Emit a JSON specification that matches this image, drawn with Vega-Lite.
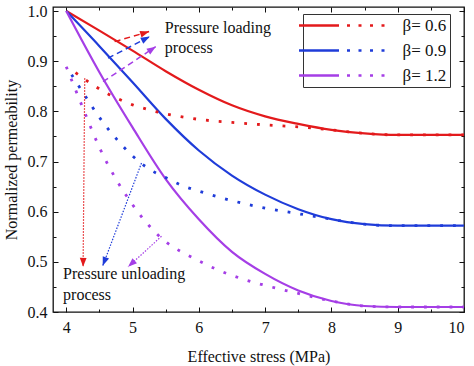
{
  "$schema": "https://vega.github.io/schema/vega-lite/v6.json",
  "width": 411,
  "height": 305,
  "autosize": {"type": "none"},
  "padding": {"left": 53, "top": 7, "right": 10, "bottom": 54},
  "background": "white",
  "config": {
    "view": {"stroke": "#111", "strokeWidth": 1.3},
    "font": "Liberation Serif",
    "axis": {"grid": false, "domain": false, "tickColor": "#111", "labelColor": "#111", "titleColor": "#111", "labelFont": "Liberation Serif", "titleFont": "Liberation Serif", "labelFontSize": 16, "titleFontSize": 16, "titleFontWeight": "normal", "tickWidth": 1}
  },
  "datasets": {
    "curves": [
      {"process": "loading", "beta": "β= 0.6", "x": 4, "k": 1.0},
      {"process": "loading", "beta": "β= 0.6", "x": 4.5, "k": 0.961},
      {"process": "loading", "beta": "β= 0.6", "x": 5, "k": 0.921},
      {"process": "loading", "beta": "β= 0.6", "x": 5.5, "k": 0.88},
      {"process": "loading", "beta": "β= 0.6", "x": 6, "k": 0.843},
      {"process": "loading", "beta": "β= 0.6", "x": 6.5, "k": 0.812},
      {"process": "loading", "beta": "β= 0.6", "x": 7, "k": 0.79},
      {"process": "loading", "beta": "β= 0.6", "x": 7.5, "k": 0.775},
      {"process": "loading", "beta": "β= 0.6", "x": 8, "k": 0.763},
      {"process": "loading", "beta": "β= 0.6", "x": 8.5, "k": 0.756},
      {"process": "loading", "beta": "β= 0.6", "x": 9, "k": 0.753},
      {"process": "loading", "beta": "β= 0.6", "x": 9.5, "k": 0.753},
      {"process": "loading", "beta": "β= 0.6", "x": 10, "k": 0.753},
      {"process": "loading", "beta": "β= 0.9", "x": 4, "k": 1.0},
      {"process": "loading", "beta": "β= 0.9", "x": 4.5, "k": 0.93},
      {"process": "loading", "beta": "β= 0.9", "x": 5, "k": 0.858},
      {"process": "loading", "beta": "β= 0.9", "x": 5.5, "k": 0.785},
      {"process": "loading", "beta": "β= 0.9", "x": 6, "k": 0.722},
      {"process": "loading", "beta": "β= 0.9", "x": 6.5, "k": 0.672},
      {"process": "loading", "beta": "β= 0.9", "x": 7, "k": 0.634},
      {"process": "loading", "beta": "β= 0.9", "x": 7.5, "k": 0.605},
      {"process": "loading", "beta": "β= 0.9", "x": 8, "k": 0.585},
      {"process": "loading", "beta": "β= 0.9", "x": 8.5, "k": 0.575},
      {"process": "loading", "beta": "β= 0.9", "x": 9, "k": 0.572},
      {"process": "loading", "beta": "β= 0.9", "x": 9.5, "k": 0.572},
      {"process": "loading", "beta": "β= 0.9", "x": 10, "k": 0.572},
      {"process": "loading", "beta": "β= 1.2", "x": 4, "k": 1.0},
      {"process": "loading", "beta": "β= 1.2", "x": 4.5, "k": 0.878},
      {"process": "loading", "beta": "β= 1.2", "x": 5, "k": 0.768},
      {"process": "loading", "beta": "β= 1.2", "x": 5.5, "k": 0.665},
      {"process": "loading", "beta": "β= 1.2", "x": 6, "k": 0.585},
      {"process": "loading", "beta": "β= 1.2", "x": 6.5, "k": 0.52},
      {"process": "loading", "beta": "β= 1.2", "x": 7, "k": 0.476},
      {"process": "loading", "beta": "β= 1.2", "x": 7.5, "k": 0.443},
      {"process": "loading", "beta": "β= 1.2", "x": 8, "k": 0.422},
      {"process": "loading", "beta": "β= 1.2", "x": 8.5, "k": 0.412},
      {"process": "loading", "beta": "β= 1.2", "x": 9, "k": 0.41},
      {"process": "loading", "beta": "β= 1.2", "x": 9.5, "k": 0.41},
      {"process": "loading", "beta": "β= 1.2", "x": 10, "k": 0.41},
      {"process": "unloading", "beta": "β= 0.6", "x": 4.14, "k": 0.877},
      {"process": "unloading", "beta": "β= 0.6", "x": 4.4, "k": 0.853},
      {"process": "unloading", "beta": "β= 0.6", "x": 4.6, "k": 0.837},
      {"process": "unloading", "beta": "β= 0.6", "x": 4.8, "k": 0.824},
      {"process": "unloading", "beta": "β= 0.6", "x": 5, "k": 0.813},
      {"process": "unloading", "beta": "β= 0.6", "x": 5.25, "k": 0.803},
      {"process": "unloading", "beta": "β= 0.6", "x": 5.5, "k": 0.795},
      {"process": "unloading", "beta": "β= 0.6", "x": 5.75, "k": 0.789},
      {"process": "unloading", "beta": "β= 0.6", "x": 6, "k": 0.784},
      {"process": "unloading", "beta": "β= 0.6", "x": 6.5, "k": 0.778},
      {"process": "unloading", "beta": "β= 0.6", "x": 7, "k": 0.773},
      {"process": "unloading", "beta": "β= 0.6", "x": 7.5, "k": 0.769},
      {"process": "unloading", "beta": "β= 0.6", "x": 8, "k": 0.763},
      {"process": "unloading", "beta": "β= 0.6", "x": 8.5, "k": 0.756},
      {"process": "unloading", "beta": "β= 0.6", "x": 9, "k": 0.753},
      {"process": "unloading", "beta": "β= 0.6", "x": 10, "k": 0.753},
      {"process": "unloading", "beta": "β= 0.9", "x": 4.08, "k": 0.873},
      {"process": "unloading", "beta": "β= 0.9", "x": 4.25, "k": 0.838},
      {"process": "unloading", "beta": "β= 0.9", "x": 4.5, "k": 0.788},
      {"process": "unloading", "beta": "β= 0.9", "x": 4.75, "k": 0.746},
      {"process": "unloading", "beta": "β= 0.9", "x": 5, "k": 0.711},
      {"process": "unloading", "beta": "β= 0.9", "x": 5.25, "k": 0.685},
      {"process": "unloading", "beta": "β= 0.9", "x": 5.5, "k": 0.668},
      {"process": "unloading", "beta": "β= 0.9", "x": 5.75, "k": 0.652},
      {"process": "unloading", "beta": "β= 0.9", "x": 6, "k": 0.641},
      {"process": "unloading", "beta": "β= 0.9", "x": 6.5, "k": 0.622},
      {"process": "unloading", "beta": "β= 0.9", "x": 7, "k": 0.607},
      {"process": "unloading", "beta": "β= 0.9", "x": 7.5, "k": 0.596},
      {"process": "unloading", "beta": "β= 0.9", "x": 8, "k": 0.585},
      {"process": "unloading", "beta": "β= 0.9", "x": 8.5, "k": 0.575},
      {"process": "unloading", "beta": "β= 0.9", "x": 9, "k": 0.572},
      {"process": "unloading", "beta": "β= 0.9", "x": 10, "k": 0.572},
      {"process": "unloading", "beta": "β= 1.2", "x": 4, "k": 0.889},
      {"process": "unloading", "beta": "β= 1.2", "x": 4.25, "k": 0.807},
      {"process": "unloading", "beta": "β= 1.2", "x": 4.5, "k": 0.728},
      {"process": "unloading", "beta": "β= 1.2", "x": 4.75, "k": 0.665},
      {"process": "unloading", "beta": "β= 1.2", "x": 5, "k": 0.614},
      {"process": "unloading", "beta": "β= 1.2", "x": 5.25, "k": 0.572},
      {"process": "unloading", "beta": "β= 1.2", "x": 5.5, "k": 0.54},
      {"process": "unloading", "beta": "β= 1.2", "x": 5.75, "k": 0.519},
      {"process": "unloading", "beta": "β= 1.2", "x": 6, "k": 0.502},
      {"process": "unloading", "beta": "β= 1.2", "x": 6.25, "k": 0.486},
      {"process": "unloading", "beta": "β= 1.2", "x": 6.5, "k": 0.473},
      {"process": "unloading", "beta": "β= 1.2", "x": 6.75, "k": 0.462},
      {"process": "unloading", "beta": "β= 1.2", "x": 7, "k": 0.453},
      {"process": "unloading", "beta": "β= 1.2", "x": 7.5, "k": 0.437},
      {"process": "unloading", "beta": "β= 1.2", "x": 8, "k": 0.422},
      {"process": "unloading", "beta": "β= 1.2", "x": 8.5, "k": 0.412},
      {"process": "unloading", "beta": "β= 1.2", "x": 9, "k": 0.41},
      {"process": "unloading", "beta": "β= 1.2", "x": 10, "k": 0.41}
    ],
    "arrows": [
      {"kind": "loading", "beta": "β= 0.6", "x": 4.73, "y": 0.939, "x2": 5.25, "y2": 0.959, "angle": 73},
      {"kind": "loading", "beta": "β= 0.9", "x": 4.63, "y": 0.906, "x2": 5.26, "y2": 0.949, "angle": 63},
      {"kind": "loading", "beta": "β= 1.2", "x": 4.555, "y": 0.859, "x2": 5.35, "y2": 0.929, "angle": 56},
      {"kind": "unloading", "beta": "β= 0.6", "x": 4.279, "y": 0.866, "x2": 4.254, "y2": 0.49, "angle": 180.5},
      {"kind": "unloading", "beta": "β= 0.9", "x": 5.135, "y": 0.697, "x2": 4.55, "y2": 0.492, "angle": 200.7},
      {"kind": "unloading", "beta": "β= 1.2", "x": 5.437, "y": 0.551, "x2": 4.933, "y2": 0.49, "angle": 227.5}
    ],
    "notes": [
      {"x": 5.487, "y": 0.957, "text": "Pressure loading"},
      {"x": 5.487, "y": 0.916, "text": "process"},
      {"x": 3.952, "y": 0.4653, "text": "Pressure unloading"},
      {"x": 3.952, "y": 0.4231, "text": "process"}
    ]
  },
  "resolve": {"axis": {"x": "independent", "y": "independent"}},
  "layer": [
    {
      "data": {"name": "curves"},
      "transform": [{"filter": "datum.process === 'loading'"}],
      "mark": {"type": "line", "strokeWidth": 2.2, "interpolate": "monotone"},
      "encoding": {
        "x": {"field": "x", "type": "quantitative", "scale": {"domain": [3.8, 10], "nice": false, "zero": false},
              "axis": {"orient": "bottom", "values": [4, 5, 6, 7, 8, 9, 10], "tickSize": -5, "labelPadding": 12, "title": "Effective stress (MPa)", "titlePadding": 13}},
        "y": {"field": "k", "type": "quantitative", "scale": {"domain": [0.4, 1.008], "nice": false, "zero": false},
              "axis": {"orient": "left", "values": [0.4, 0.5, 0.6, 0.7, 0.8, 0.9, 1.0], "format": ".1f", "tickSize": -5, "labelPadding": 11, "title": "Normalized permeability", "titlePadding": 8}},
        "color": {"field": "beta", "type": "nominal",
                  "scale": {"domain": ["β= 0.6", "β= 0.9", "β= 1.2"], "range": ["#e31a1c", "#1f3cd9", "#a53ee6"]},
                  "legend": {"orient": "none", "legendX": 250, "legendY": 7, "title": null,
                             "symbolType": "M-42,0H-2M6,0H9M17.5,0H20.5M29,0H32M40.5,0H43.5",
                             "symbolSize": 4, "symbolStrokeWidth": 2.5, "symbolOffset": 26.5, "labelOffset": 53,
                             "labelFont": "Liberation Serif", "labelFontSize": 17, "labelColor": "#111",
                             "padding": 3, "rowPadding": 7, "strokeColor": "#333", "fillColor": "white"}}
      }
    },
    {
      "data": {"name": "curves"},
      "transform": [{"filter": "datum.process === 'unloading'"}],
      "mark": {"type": "line", "strokeWidth": 2.8, "strokeDash": [2.8, 10], "interpolate": "monotone"},
      "encoding": {
        "x": {"field": "x", "type": "quantitative", "scale": {"domain": [3.8, 10], "nice": false, "zero": false},
              "axis": {"orient": "top", "values": [4, 5, 6, 7, 8, 9, 10], "tickSize": -5, "labels": false, "title": null}},
        "y": {"field": "k", "type": "quantitative", "scale": {"domain": [0.4, 1.008], "nice": false, "zero": false},
              "axis": {"orient": "right", "values": [0.4, 0.5, 0.6, 0.7, 0.8, 0.9, 1.0], "tickSize": -5, "labels": false, "title": null}},
        "color": {"field": "beta", "type": "nominal", "legend": null}
      }
    },
    {
      "data": {"name": "arrows"},
      "transform": [{"filter": "datum.kind === 'loading'"}],
      "mark": {"type": "rule", "strokeWidth": 1.5, "strokeDash": [6, 4]},
      "encoding": {
        "x": {"field": "x", "type": "quantitative", "scale": {"domain": [3.8, 10], "nice": false, "zero": false},
              "axis": {"orient": "bottom", "values": [4.5, 5.5, 6.5, 7.5, 8.5, 9.5], "tickSize": -3, "labels": false, "title": null}},
        "y": {"field": "y", "type": "quantitative", "scale": {"domain": [0.4, 1.008], "nice": false, "zero": false},
              "axis": {"orient": "left", "values": [0.45, 0.55, 0.65, 0.75, 0.85, 0.95], "tickSize": -3, "labels": false, "title": null}},
        "x2": {"field": "x2"},
        "y2": {"field": "y2"},
        "color": {"field": "beta", "type": "nominal", "legend": null}
      }
    },
    {
      "data": {"name": "arrows"},
      "transform": [{"filter": "datum.kind === 'unloading'"}],
      "mark": {"type": "rule", "strokeWidth": 1.2, "strokeDash": [1.5, 1.5]},
      "encoding": {
        "x": {"field": "x", "type": "quantitative", "scale": {"domain": [3.8, 10], "nice": false, "zero": false},
              "axis": {"orient": "top", "values": [4.5, 5.5, 6.5, 7.5, 8.5, 9.5], "tickSize": -3, "labels": false, "title": null}},
        "y": {"field": "y", "type": "quantitative", "scale": {"domain": [0.4, 1.008], "nice": false, "zero": false},
              "axis": {"orient": "right", "values": [0.45, 0.55, 0.65, 0.75, 0.85, 0.95], "tickSize": -3, "labels": false, "title": null}},
        "x2": {"field": "x2"},
        "y2": {"field": "y2"},
        "color": {"field": "beta", "type": "nominal", "legend": null}
      }
    },
    {
      "data": {"name": "arrows"},
      "mark": {"type": "point", "shape": "M0,0L-0.75,2L0.75,2Z", "filled": true, "size": 81, "opacity": 1},
      "encoding": {
        "x": {"field": "x2", "type": "quantitative", "scale": {"domain": [3.8, 10], "nice": false, "zero": false}, "axis": null},
        "y": {"field": "y2", "type": "quantitative", "scale": {"domain": [0.4, 1.008], "nice": false, "zero": false}, "axis": null},
        "angle": {"field": "angle", "type": "quantitative", "scale": null},
        "color": {"field": "beta", "type": "nominal", "legend": null}
      }
    },
    {
      "data": {"name": "notes"},
      "mark": {"type": "text", "align": "left", "baseline": "alphabetic", "font": "Liberation Serif", "fontSize": 16, "color": "#111"},
      "encoding": {
        "x": {"field": "x", "type": "quantitative", "scale": {"domain": [3.8, 10], "nice": false, "zero": false}, "axis": null},
        "y": {"field": "y", "type": "quantitative", "scale": {"domain": [0.4, 1.008], "nice": false, "zero": false}, "axis": null},
        "text": {"field": "text", "type": "nominal"}
      }
    }
  ]
}
